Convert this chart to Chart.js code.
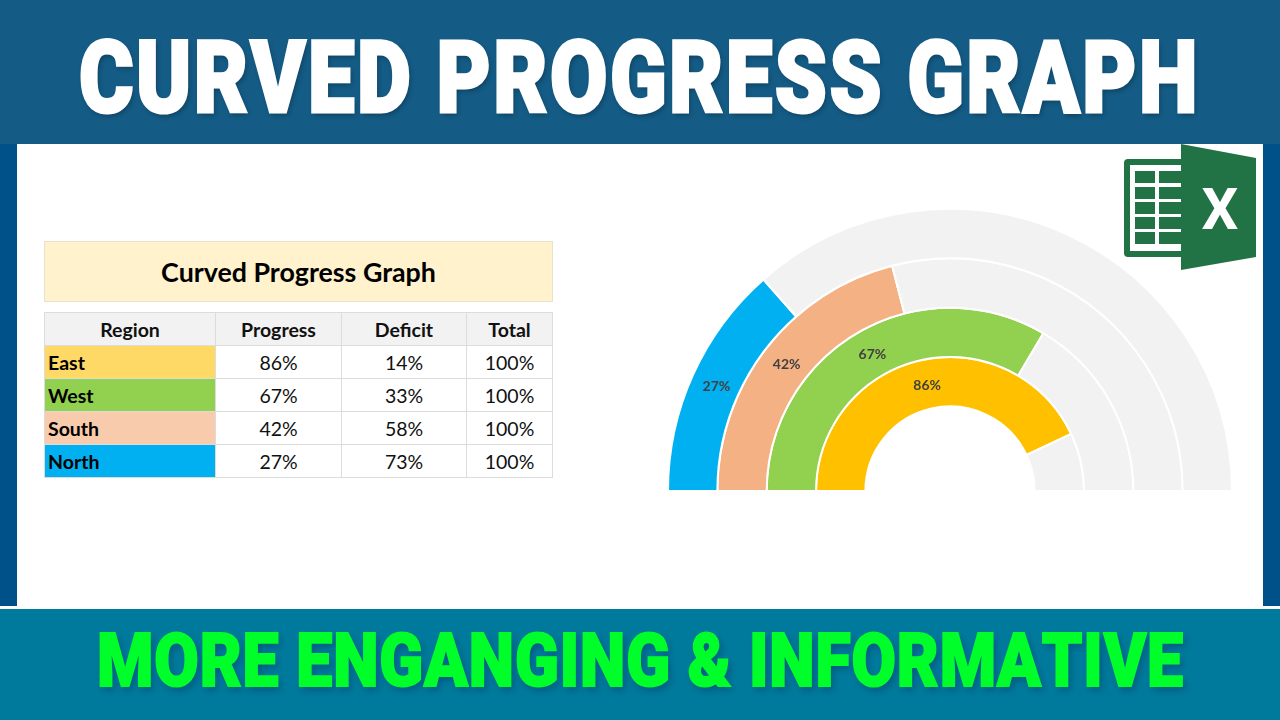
<!DOCTYPE html>
<html>
<head>
<meta charset="utf-8">
<title>Curved Progress Graph</title>
<script src="https://cdn.jsdelivr.net/npm/chart.js@4"></script>
<style>
  html, body { margin: 0; padding: 0; background: #fff; }
  #page { position: relative; width: 1280px; height: 720px; overflow: hidden; font-family: Lato, sans-serif; }
  .band { position: absolute; left: 0; width: 1280px; white-space: nowrap; font-family: Roboto, sans-serif; font-weight: 900; font-kerning: none; }
  .band span { position: absolute; top: 0; }
  #topBand { top: 0; height: 144px; background: #145b85; color: #fff; font-size: 100px; line-height: 156px; letter-spacing: 3px; -webkit-text-stroke: 3px #fff; text-shadow: 2px 3px 6px rgba(0,0,0,.3); }
  #bottomBand { top: 609px; height: 111px; background: #007a9c; color: #00ff2a; font-size: 74px; line-height: 104px; letter-spacing: 1px; -webkit-text-stroke: 2px #00ff2a; text-shadow: 3px 4px 8px rgba(0,50,90,.45); }
  .strip { position: absolute; top: 144px; width: 17px; height: 462px; background: #00508a; }
  #titleBox { position: absolute; left: 44px; top: 241px; width: 507px; height: 59px; background: #fff2cc; border: 1px solid #e8e2cc;
    text-align: center; font-weight: 700; font-size: 26.8px; line-height: 60px; color: #000; }
  #dataTable { position: absolute; left: 44px; top: 312px; border-collapse: collapse; table-layout: fixed; width: 508px; font-size: 19.5px; color: #111; }
  #dataTable th, #dataTable td { border: 1px solid #dcdcdc; height: 32px; padding: 0; text-align: center; }
  #dataTable th { background: #f2f2f2; font-weight: 700; }
  #dataTable td.region { text-align: left; padding-left: 3px; font-weight: 700; color: #000; }
  #chartBox { position: absolute; left: 667px; top: 208px; width: 566px; height: 284px; }
  #excel { position: absolute; left: 1122px; top: 144px; }
</style>
</head>
<body>
<div id="page">
  <div class="band" id="topBand"><span data-left="79" data-width="1121">CURVED PROGRESS GRAPH</span></div>
  <div class="strip" style="left:0"></div>
  <div class="strip" style="left:1263px"></div>
  <div id="titleBox">Curved Progress Graph</div>
  <table id="dataTable">
    <colgroup><col style="width:171px"><col style="width:126px"><col style="width:125px"><col style="width:86px"></colgroup>
    <thead><tr id="headRow"></tr></thead>
    <tbody id="bodyRows"></tbody>
  </table>
  <div id="chartBox"><canvas id="myChart"></canvas></div>
  <svg id="excel" width="136" height="128" viewBox="0 0 136 128">
    <rect x="2" y="15" width="80" height="98" rx="4" fill="#217346"/>
    <rect x="8" y="21" width="60" height="86" fill="#fff"/>
    <g fill="#217346">
      <rect x="13" y="27" width="20" height="12"/><rect x="37" y="27" width="24" height="12"/>
      <rect x="13" y="43" width="20" height="12"/><rect x="37" y="43" width="24" height="12"/>
      <rect x="13" y="58" width="20" height="12"/><rect x="37" y="58" width="24" height="12"/>
      <rect x="13" y="73" width="20" height="12"/><rect x="37" y="73" width="24" height="12"/>
      <rect x="13" y="88" width="20" height="12"/><rect x="37" y="88" width="24" height="12"/>
    </g>
    <path d="M59 0 L134 14 L134 113 L59 126 Z" fill="#217346"/>
    <text x="98" y="85" text-anchor="middle" font-family="Roboto, sans-serif" font-weight="700" font-size="58" fill="#fff">X</text>
  </svg>
  <div class="band" id="bottomBand"><span data-left="97" data-width="1087">MORE ENGANGING &amp; INFORMATIVE</span></div>
</div>

<script>
const headers = ['Region', 'Progress', 'Deficit', 'Total'];
const regions = ['East', 'West', 'South', 'North'];
const progress = [86, 67, 42, 27];
const deficit = [14, 33, 58, 73];
const total = [100, 100, 100, 100];
const tableColors = ['#ffd966', '#92d050', '#f8cbad', '#00b0f0'];
const ringColors = ['#ffc000', '#92d050', '#f4b183', '#00b0f0'];
const restColor = '#f2f2f2';

document.getElementById('headRow').innerHTML = headers.map(h => `<th>${h}</th>`).join('');
document.getElementById('bodyRows').innerHTML = regions.map((r, i) =>
  `<tr><td class="region" style="background:${tableColors[i]}">${r}</td>` +
  `<td>${progress[i]}%</td><td>${deficit[i]}%</td><td>${total[i]}%</td></tr>`
).join('');

// stretch the banner text to the span it has in the picture
document.querySelectorAll('.band span').forEach(el => {
  el.style.left = el.dataset.left + 'px';
  el.style.transformOrigin = 'left center';
  el.style.transform = `scaleX(${el.dataset.width / el.offsetWidth})`;
});

// first dataset is the outer ring, so North goes first
const datasets = regions.map((r, i) => ({
  label: r,
  data: [progress[i], deficit[i]],
  backgroundColor: [ringColors[i], restColor],
  borderColor: '#fff',
  borderWidth: 2
})).reverse();

// percent labels in the middle of each coloured arc
const arcLabels = {
  id: 'arcLabels',
  afterDatasetsDraw(chart) {
    const { ctx } = chart;
    ctx.save();
    ctx.font = '700 14px Lato, sans-serif';
    ctx.fillStyle = '#404040';
    ctx.textAlign = 'center';
    ctx.textBaseline = 'middle';
    chart.data.datasets.forEach((ds, i) => {
      const pos = chart.getDatasetMeta(i).data[0].tooltipPosition();
      ctx.fillText(ds.data[0] + '%', pos.x + 1, pos.y + 1);
    });
    ctx.restore();
  }
};

new Chart(document.getElementById('myChart'), {
  type: 'doughnut',
  data: { labels: ['Progress', 'Deficit'], datasets },
  plugins: [arcLabels],
  options: {
    responsive: true,
    maintainAspectRatio: false,
    animation: false,
    rotation: -90,
    circumference: 180,
    cutout: '30%',
    plugins: { legend: { display: false }, tooltip: { enabled: false } }
  }
});
</script>
</body>
</html>
